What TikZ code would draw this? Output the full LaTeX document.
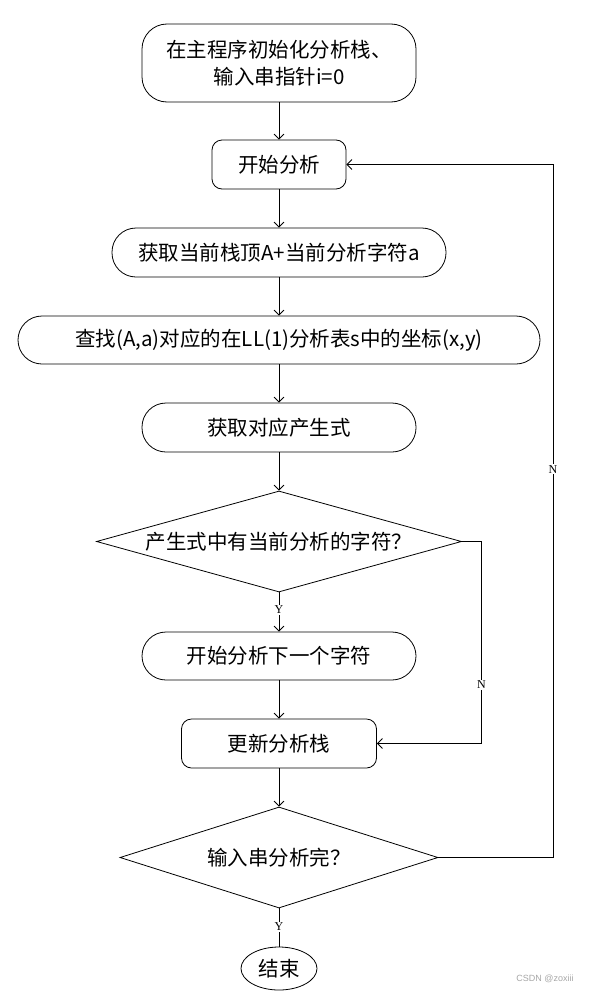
\documentclass[tikz,border=0pt]{standalone}
\usepackage{fontspec}
\setmainfont{Liberation Serif}
\newfontfamily\cjk{Noto Sans CJK SC}
\newfontfamily\wmfont{Liberation Sans}
\usetikzlibrary{shapes.geometric,arrows.meta}
\begin{document}
\begin{tikzpicture}[x=1pt,y=-1pt,
  every node/.style={font=\cjk\fontsize{20.5}{27}\selectfont},
  box/.style={draw, rectangle, line width=0.8pt, inner sep=0pt, align=center},
  dia/.style={draw, diamond, line width=0.8pt, inner sep=0pt},
  conn/.style={line width=0.8pt, -{Straight Barb[length=5pt,width=10pt,line width=0.8pt]}},
  plain/.style={line width=0.8pt},
  yn/.style={fill=white, inner sep=1pt, font=\fontsize{12}{12}\selectfont}]
\useasboundingbox (0,0) rectangle (592,993);
\node[box, minimum width=274pt, minimum height=78pt, rounded corners=25pt] (n1) at (279,63) {在主程序初始化分析栈、\\输入串指针i=0};
\node[box, minimum width=134pt, minimum height=49pt, rounded corners=10pt] (n2) at (279,164.5) {开始分析};
\node[box, minimum width=334pt, minimum height=49pt, rounded corners=24pt] (n3) at (279,252.5) {获取当前栈顶A+当前分析字符a};
\node[box, minimum width=522pt, minimum height=48pt, rounded corners=24pt] (n4) at (279,340) {查找(A,a)对应的在LL(1)分析表s中的坐标(x,y)};
\node[box, minimum width=274pt, minimum height=49pt, rounded corners=24pt] (n5) at (279,427.5) {获取对应产生式};
\node[dia, minimum width=365pt, minimum height=101pt] (d1) at (279,541.5) {};
\node (d1t) at (279,541.5) {产生式中有当前分析的字符？};
\node[box, minimum width=274pt, minimum height=48pt, rounded corners=24pt] (n6) at (279,656) {开始分析下一个字符};
\node[box, minimum width=195pt, minimum height=49pt, rounded corners=10pt] (n7) at (279,743.5) {更新分析栈};
\node[dia, minimum width=318pt, minimum height=101pt] (d2) at (279,857.5) {};
\node (d2t) at (279,857.5) {输入串分析完？};
\node[draw, ellipse, line width=0.8pt, minimum width=76pt, minimum height=43pt, inner sep=0pt] (end) at (279,968.5) {结束};
\coordinate (c1) at (481.5,541.5);
\coordinate (c2) at (481.5,743.5);
\coordinate (c3) at (553,857.5);
\coordinate (c4) at (553,164.5);
\draw[conn] (n1) -- (n2);
\draw[conn] (n2) -- (n3);
\draw[conn] (n3) -- (n4);
\draw[conn] (n4) -- (n5);
\draw[conn] (n5) -- (d1.north);
\draw[conn] (d1.south) -- node[yn, pos=0.45] (ly1) {Y} (n6);
\draw[conn] (n6) -- (n7);
\draw[conn] (n7) -- (d2.north);
\draw[plain] (d2.south) -- node[yn, pos=0.48] (ly2) {Y} (end);
\draw[conn] (d1.east) -- (c1) -- node[yn, pos=0.71] (ln1) {N} (c2) -- (n7.east);
\draw[conn] (d2.east) -- (c3) -- node[yn, pos=0.56] (ln2) {N} (c4) -- (n2.east);
\node[font=\wmfont\fontsize{9}{9}\selectfont, text=gray!70, inner sep=0pt] (wm) at (545,979) {CSDN @zoxiii};
\end{tikzpicture}
\end{document}
